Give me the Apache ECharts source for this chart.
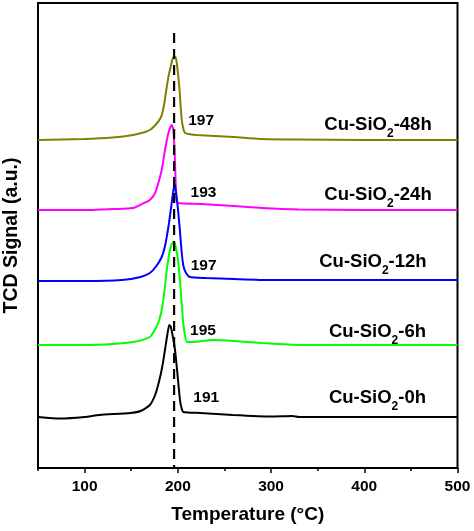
<!DOCTYPE html>
<html>
<head>
<meta charset="utf-8">
<script src="https://cdn.jsdelivr.net/npm/echarts@6/dist/echarts.min.js"></script>
<style>
html,body{margin:0;padding:0;background:#fff;}
#chart{width:474px;height:531px;}
</style>
</head>
<body>
<div id="chart"></div>
<script>
// ---- data (temperature °C, TCD signal a.u.) ----
const sample48h = [[50,328],[100,329],[130,330.5],[152,333],[165,336],[170,338],[176,343],[182,351],[185,362],[188.1,381],[190.5,394],[192.3,401],[194,408],[195.5,411],[197.5,411],[199,404],[201.6,381],[203,362],[204.2,348],[206,339],[207.7,335],[212,334],[220,333],[260,331],[288,329],[330,328.5],[400,328],[500,328]];
const sample24h = [[50,258],[100,258],[130,259],[152,260],[163,264.7],[170,268],[175.5,274.7],[179,284.7],[182.7,298],[186.2,318],[189.8,334.7],[193.4,343],[195,339],[196.5,318],[197.5,290],[198.5,268],[200,265],[225,264],[260,262],[290,260],[330,258.5],[400,258],[500,258]];
const sample12h = [[50,187],[100,187],[140,188],[160,191],[170,195],[177,202],[182.7,211],[186,221],[188.1,231],[190.5,245],[193,262],[195,276],[196.5,284],[198,276],[200,260],[202,240],[204.2,215],[206,202],[208.8,195],[213,191],[230,190],[260,189],[300,188],[500,188]];
const sample6h = [[50,123],[100,123],[130,124],[152,126],[170,131],[177,141],[180,148],[182.7,158],[185.5,176],[188.1,198],[190,210],[191.6,218],[193.5,224],[195.5,226],[197.5,222],[200.2,208],[202.5,185],[205.5,148],[207.5,133],[209.8,126],[215,126],[238,128],[260,127],[290,125],[331,123],[500,123]];
const sample0h = [[50,51],[74,49.5],[100,51],[116,53],[149,55],[160,57],[170,63],[176,74],[181,91],[184,105],[186.2,118],[188.5,132],[190.8,143],[192.5,141],[194.5,132],[197,118],[199.5,95],[202.3,68],[204,60],[205.9,56],[224,55],[259,53],[300,51.5],[323,52],[330,51],[500,51]];

const sampleNames = ['48h','24h','12h','6h','0h'];
const peakTemps = ['197','193','197','195','191'];
const peakLabelX = [225, 227.5, 227.7, 227, 230.5];
const peakLabelY = [347, 275, 202, 137, 70];
const nameLabelX = [472.3, 472.3, 466.9, 466.2, 466.2];
const nameLabelY = [343, 273, 206.5, 136, 70];
const guideTemp = 196;
const guideTop = 435;
const xTickLabels = [100, 200, 300, 400, 500];
const xMinorTicks = [50, 150, 250, 350, 450];

const colors = ['#808000', '#ff00ff', '#0000ff', '#00ff00', '#000000'];
const allData = [sample48h, sample24h, sample12h, sample6h, sample0h];
const FONT = 'Liberation Sans, Arial, sans-serif';

const series = [];
allData.forEach((d, i) => {
  series.push({
    type: 'line', name: 'Cu-SiO2-' + sampleNames[i], data: d,
    showSymbol: false, smooth: 0.2, xAxisIndex: 0,
    lineStyle: {color: colors[i], width: 2},
    z: 3
  });
});
series.push({
  type: 'line', data: [[guideTemp, guideTop], [guideTemp, 0]], showSymbol: false,
  lineStyle: {color: '#000', width: 2.2, type: [10, 6]}, z: 5
});
series.push({
  type: 'scatter', symbolSize: 0, z: 6, itemStyle: {opacity: 1, color: '#000'},
  data: peakTemps.map((t, i) => [peakLabelX[i], peakLabelY[i], t]),
  label: {show: true, position: 'inside', formatter: p => p.data[2], opacity: 1,
    textBorderWidth: 0, textBorderColor: 'transparent',
    color: '#000', fontFamily: FONT, fontWeight: 'bold', fontSize: 15.5}
});
series.push({
  type: 'scatter', symbolSize: 0, z: 6, itemStyle: {opacity: 1, color: '#000'},
  data: sampleNames.map((n, i) => [nameLabelX[i], nameLabelY[i], n]),
  label: {show: true, position: 'inside', align: 'right', verticalAlign: 'middle', opacity: 1,
    textBorderWidth: 0, textBorderColor: 'transparent',
    formatter: p => '{m|Cu-SiO}{s|2}{m|-' + p.data[2] + '}',
    rich: {
      m: {color: '#000', fontFamily: FONT, fontWeight: 'bold', fontSize: 18.5, lineHeight: 22, verticalAlign: 'middle', textBorderWidth: 0},
      s: {color: '#000', fontFamily: FONT, fontWeight: 'bold', fontSize: 12, lineHeight: 12, verticalAlign: 'bottom', padding: [0, 0, -4, 0], textBorderWidth: 0}
    }}
});

const chart = echarts.init(document.getElementById('chart'), null, {renderer: 'canvas'});
chart.setOption({
  animation: false,
  backgroundColor: '#fff',
  grid: {left: 38, right: 16.5, top: 3, bottom: 63, show: true, borderColor: '#000', borderWidth: 2,
    containLabel: false, outerBoundsMode: 'none'},
  xAxis: [{
    type: 'value', min: 50, max: 500,
    name: 'Temperature (°C)', nameLocation: 'middle', nameGap: 37,
    nameTextStyle: {color: '#000', fontFamily: FONT, fontWeight: 'bold', fontSize: 19},
    axisLine: {show: true, lineStyle: {color: '#000', width: 2}},
    axisTick: {show: true, inside: false, length: 5, lineStyle: {color: '#000', width: 1.5}, customValues: xTickLabels},
    axisLabel: {color: '#000', fontFamily: FONT, fontWeight: 'bold', fontSize: 15.5, margin: 11, customValues: xTickLabels},
    splitLine: {show: false}
  }, {
    type: 'value', min: 50, max: 500, position: 'bottom',
    axisLine: {show: false},
    axisTick: {show: true, inside: false, length: 3, lineStyle: {color: '#000', width: 1.5}, customValues: xMinorTicks},
    axisLabel: {show: false},
    splitLine: {show: false}
  }],
  yAxis: {
    type: 'value', min: 0, max: 465,
    name: 'TCD Signal (a.u.)', nameLocation: 'middle', nameGap: 16,
    nameTextStyle: {color: '#000', fontFamily: FONT, fontWeight: 'bold', fontSize: 19.5},
    axisLine: {show: true, lineStyle: {color: '#000', width: 2}},
    axisTick: {show: false}, axisLabel: {show: false}, splitLine: {show: false}
  },
  series: series
});
</script>
</body>
</html>
